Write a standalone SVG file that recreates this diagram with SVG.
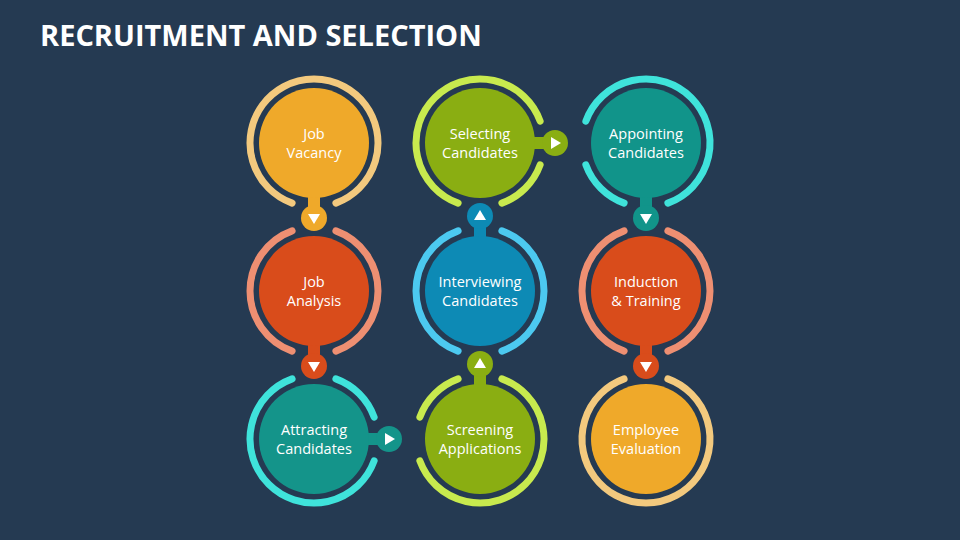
<svg xmlns="http://www.w3.org/2000/svg" width="960" height="540" viewBox="0 0 960 540">
<style>
.ring{fill:none;stroke-width:7;stroke-linecap:round}
.t{font-family:"Open Sans","Liberation Sans",sans-serif;font-size:14.5px;fill:#fff;text-anchor:middle}
.ar{fill:#fff}
</style>
<rect width="960" height="540" fill="#253A52"/>
<text x="40" y="46" font-family="'Open Sans','Liberation Sans',sans-serif" font-weight="700" font-size="29" fill="#fff">RECRUITMENT AND SELECTION</text>
<g id="connectors">
<g fill="#EFA92A"><rect x="308" y="190" width="12" height="28"/><circle cx="314" cy="218" r="13"/></g>
<polygon class="ar" points="308,214 320,214 314,224"/>
<g fill="#D94C1B"><rect x="308" y="338" width="12" height="28"/><circle cx="314" cy="366" r="13"/></g>
<polygon class="ar" points="308,362 320,362 314,372"/>
<g fill="#14948A"><rect x="361" y="433" width="28" height="12"/><circle cx="389" cy="439" r="13"/></g>
<polygon class="ar" points="385,433 385,445 395,439"/>
<g fill="#8AAE12"><rect x="474" y="364" width="12" height="28"/><circle cx="480" cy="364" r="13"/></g>
<polygon class="ar" points="474,368 486,368 480,358"/>
<g fill="#0D8AB5"><rect x="474" y="216" width="12" height="28"/><circle cx="480" cy="216" r="13"/></g>
<polygon class="ar" points="474,220 486,220 480,210"/>
<g fill="#8AAE12"><rect x="527" y="137" width="28" height="12"/><circle cx="555" cy="143" r="13"/></g>
<polygon class="ar" points="551,137 551,149 561,143"/>
<g fill="#11948A"><rect x="640" y="190" width="12" height="28"/><circle cx="646" cy="218" r="13"/></g>
<polygon class="ar" points="640,214 652,214 646,224"/>
<g fill="#D94C1B"><rect x="640" y="338" width="12" height="28"/><circle cx="646" cy="366" r="13"/></g>
<polygon class="ar" points="640,362 652,362 646,372"/>
</g>
<g id="jv"><path class="ring" stroke="#F3C97E" d="M292.11,203.14 A64,64 0 1 1 335.89,203.14"/><circle cx="314" cy="143" r="55" fill="#EFA92A"/><text class="t" x="314" y="139">Job</text><text class="t" x="314" y="158">Vacancy</text></g>
<g id="ja"><path class="ring" stroke="#EE8F72" d="M292.11,351.14 A64,64 0 0 1 292.11,230.86 M335.89,230.86 A64,64 0 0 1 335.89,351.14"/><circle cx="314" cy="291" r="55" fill="#D94C1B"/><text class="t" x="314" y="287">Job</text><text class="t" x="314" y="306">Analysis</text></g>
<g id="ac"><path class="ring" stroke="#3FE3DB" d="M374.14,460.89 A64,64 0 1 1 292.11,378.86 M335.89,378.86 A64,64 0 0 1 374.14,417.11"/><circle cx="314" cy="439" r="55" fill="#14948A"/><text class="t" x="314" y="435">Attracting</text><text class="t" x="314" y="454">Candidates</text></g>
<g id="sa"><path class="ring" stroke="#C8EA4E" d="M501.89,378.86 A64,64 0 1 1 419.86,460.89 M419.86,417.11 A64,64 0 0 1 458.11,378.86"/><circle cx="480" cy="439" r="55" fill="#8AAE12"/><text class="t" x="480" y="435">Screening</text><text class="t" x="480" y="454">Applications</text></g>
<g id="ic"><path class="ring" stroke="#4CC9F0" d="M458.11,351.14 A64,64 0 0 1 458.11,230.86 M501.89,230.86 A64,64 0 0 1 501.89,351.14"/><circle cx="480" cy="291" r="55" fill="#0D8AB5"/><text class="t" x="480" y="287">Interviewing</text><text class="t" x="480" y="306">Candidates</text></g>
<g id="sc"><path class="ring" stroke="#C8EA4E" d="M540.14,164.89 A64,64 0 0 1 501.89,203.14 M458.11,203.14 A64,64 0 1 1 540.14,121.11"/><circle cx="480" cy="143" r="55" fill="#8AAE12"/><text class="t" x="480" y="139">Selecting</text><text class="t" x="480" y="158">Candidates</text></g>
<g id="ap"><path class="ring" stroke="#3FE3DB" d="M624.11,203.14 A64,64 0 0 1 585.86,164.89 M585.86,121.11 A64,64 0 1 1 667.89,203.14"/><circle cx="646" cy="143" r="55" fill="#11948A"/><text class="t" x="646" y="139">Appointing</text><text class="t" x="646" y="158">Candidates</text></g>
<g id="it"><path class="ring" stroke="#EE8F72" d="M624.11,351.14 A64,64 0 0 1 624.11,230.86 M667.89,230.86 A64,64 0 0 1 667.89,351.14"/><circle cx="646" cy="291" r="55" fill="#D94C1B"/><text class="t" x="646" y="287">Induction</text><text class="t" x="646" y="306">&amp; Training</text></g>
<g id="ee"><path class="ring" stroke="#F3C97E" d="M667.89,378.86 A64,64 0 1 1 624.11,378.86"/><circle cx="646" cy="439" r="55" fill="#EFA92A"/><text class="t" x="646" y="435">Employee</text><text class="t" x="646" y="454">Evaluation</text></g>
</svg>
